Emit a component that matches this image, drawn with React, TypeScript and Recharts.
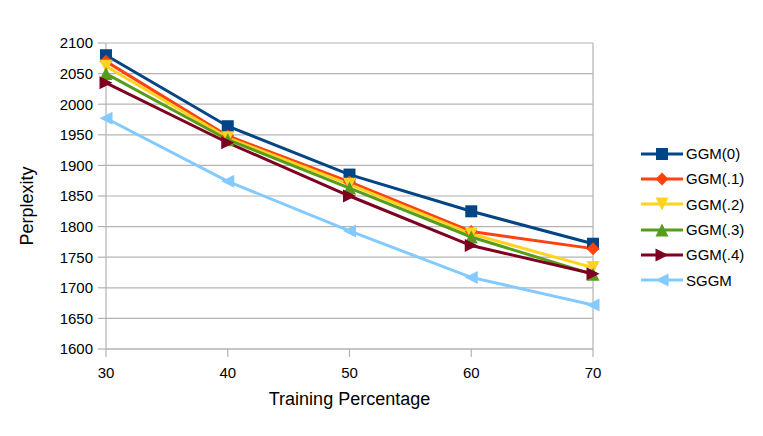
import React from 'react';
import { LineChart, Line, XAxis, YAxis, CartesianGrid, ReferenceLine } from 'recharts';

const xValues = [30, 40, 50, 60, 70];
const ggm0 = [2080, 1964, 1885, 1825, 1772];
const ggm1 = [2070, 1948, 1873, 1792, 1764];
const ggm2 = [2062, 1945, 1869, 1788, 1733];
const ggm3 = [2050, 1942, 1863, 1783, 1722];
const ggm4 = [2035, 1937, 1850, 1769, 1723];
const sggm = [1977, 1874, 1793, 1717, 1672];
const yTicks = [1600, 1650, 1700, 1750, 1800, 1850, 1900, 1950, 2000, 2050, 2100];
const xTicks = [30, 40, 50, 60, 70];

const seriesDefs = [
  { key: 'g0', name: 'GGM(0)', color: '#004586', shape: 'square', values: ggm0 },
  { key: 'g1', name: 'GGM(.1)', color: '#ff420e', shape: 'diamond', values: ggm1 },
  { key: 'g2', name: 'GGM(.2)', color: '#ffd320', shape: 'down', values: ggm2 },
  { key: 'g3', name: 'GGM(.3)', color: '#579d1c', shape: 'up', values: ggm3 },
  { key: 'g4', name: 'GGM(.4)', color: '#7e0021', shape: 'right', values: ggm4 },
  { key: 's', name: 'SGGM', color: '#83caff', shape: 'left', values: sggm },
];

const data = xValues.map((x, i) => {
  const row: any = { x };
  seriesDefs.forEach((s) => (row[s.key] = s.values[i]));
  return row;
});

const FONT = '"Liberation Sans", Arial, sans-serif';

function Marker({ cx, cy, color, shape }: { cx: number; cy: number; color: string; shape: string }) {
  if (cx == null || cy == null) return null;
  const r = 6.5;
  let d = '';
  switch (shape) {
    case 'square':
      return <rect x={cx - 6} y={cy - 6} width={12} height={12} fill={color} />;
    case 'diamond':
      d = `M${cx},${cy - r} L${cx + r},${cy} L${cx},${cy + r} L${cx - r},${cy} Z`;
      break;
    case 'down':
      d = `M${cx - r},${cy - r} L${cx + r},${cy - r} L${cx},${cy + r} Z`;
      break;
    case 'up':
      d = `M${cx - r},${cy + r} L${cx + r},${cy + r} L${cx},${cy - r} Z`;
      break;
    case 'right':
      d = `M${cx - r},${cy - r} L${cx + r},${cy} L${cx - r},${cy + r} Z`;
      break;
    case 'left':
      d = `M${cx + r},${cy - r} L${cx - r},${cy} L${cx + r},${cy + r} Z`;
      break;
  }
  return <path d={d} fill={color} />;
}

const LegendBox = () => (
  <div style={{ position: 'absolute', left: 641, top: 141, fontFamily: FONT, fontSize: 15, color: '#000' }}>
    {seriesDefs.map((s) => (
      <div key={s.key} style={{ display: 'flex', alignItems: 'center', height: 25.3 }}>
        <svg width={42} height={16} style={{ marginRight: 3 }}>
          <line x1={0} y1={8} x2={42} y2={8} stroke={s.color} strokeWidth={3} />
          <Marker cx={21} cy={8} color={s.color} shape={s.shape} />
        </svg>
        <span>{s.name}</span>
      </div>
    ))}
  </div>
);

const XTitle = (props: any) => {
  const vb = props.viewBox;
  return (
    <text x={vb.x + vb.width / 2} y={vb.y + vb.height} textAnchor="middle" dominantBaseline="central"
      fontFamily={FONT} fontSize={18} fill="#000">Training Percentage</text>
  );
};

const YTitle = (props: any) => {
  const vb = props.viewBox;
  const x = vb.x + 27;
  const y = vb.y + vb.height / 2 + 10;
  return (
    <text x={x} y={y} textAnchor="middle" dominantBaseline="central" transform={`rotate(-90 ${x} ${y})`}
      fontFamily={FONT} fontSize={18} fill="#000">Perplexity</text>
  );
};

export default function App() {
  return (
    <div style={{ position: 'absolute', left: 0, top: 0, width: 763, height: 436, background: '#fff' }}>
      <LineChart width={763} height={436} data={data} margin={{ top: 43, right: 170, left: 0, bottom: 37 }}>
        <CartesianGrid vertical={false} stroke="#b3b3b3" strokeWidth={1.2} />
        <ReferenceLine x={70} stroke="#b3b3b3" strokeWidth={1.2} />
        <XAxis dataKey="x" type="number" domain={[30, 70]} ticks={xTicks} height={50}
          stroke="#b3b3b3" strokeWidth={1.2} tickSize={8} tickMargin={10}
          tick={{ fill: '#000', fontSize: 15, fontFamily: FONT }} label={<XTitle />} />
        <YAxis type="number" domain={[1600, 2100]} ticks={yTicks} width={106} interval={0}
          stroke="#b3b3b3" strokeWidth={1.2} tickSize={8} tickMargin={5}
          tick={{ fill: '#000', fontSize: 15, fontFamily: FONT }} label={<YTitle />} />
        {seriesDefs.map((s) => (
          <Line key={s.key} dataKey={s.key} name={s.name} stroke={s.color} strokeWidth={3}
            isAnimationActive={false}
            dot={(p: any) => <Marker key={`${s.key}-${p.index}`} cx={p.cx} cy={p.cy} color={s.color} shape={s.shape} />}
            activeDot={false} />
        ))}
      </LineChart>
      <LegendBox />
    </div>
  );
}
